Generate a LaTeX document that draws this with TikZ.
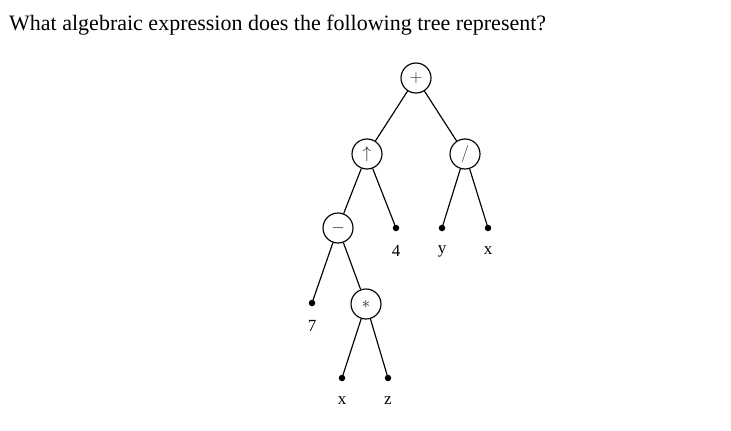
\documentclass[tikz,border=0pt]{standalone}
\usepackage{fontspec}
\setmainfont{Liberation Serif}
\begin{document}
\begin{tikzpicture}[x=1pt,y=-1pt,
  op/.style={circle,draw,line width=1.15pt,minimum size=30pt,inner sep=0pt,font=\fontsize{17}{20}\selectfont,text=black!85},
  leaf/.style={circle,fill,inner sep=0pt,minimum size=6.5pt},
  lbl/.style={font=\fontsize{17}{20}\selectfont,inner sep=0pt},
  edge/.style={line width=1.15pt}]
\useasboundingbox (0,0) rectangle (731,431);
\node[anchor=base west,inner sep=0pt,font=\fontsize{22}{26}\selectfont] (title) at (9,30) {What algebraic expression does the following tree represent?};
\node[op] (plus) at (416,78) {$+$};
\node[op] (up) at (367,154) {$\uparrow$};
\node[op] (div) at (465,154) {$/$};
\node[op] (minus) at (338,228) {$-$};
\node[op] (times) at (366,304) {$*$};
\node[leaf] (four) at (396,228) {};
\node[leaf] (y) at (442,228) {};
\node[leaf] (x1) at (488,228) {};
\node[leaf] (seven) at (312,303) {};
\node[leaf] (x2) at (342,378) {};
\node[leaf] (z) at (388,378) {};
\node[lbl] (l4) at (396,251) {4};
\node[lbl] (ly) at (442,251) {y};
\node[lbl] (lx1) at (488,251) {x};
\node[lbl] (l7) at (312,326) {7};
\node[lbl] (lx2) at (342,401) {x};
\node[lbl] (lz) at (388,401) {z};
\draw[edge] (plus) -- (up);
\draw[edge] (plus) -- (div);
\draw[edge] (up) -- (minus);
\draw[edge] (up) -- (four.center);
\draw[edge] (div) -- (y.center);
\draw[edge] (div) -- (x1.center);
\draw[edge] (minus) -- (seven.center);
\draw[edge] (minus) -- (times);
\draw[edge] (times) -- (x2.center);
\draw[edge] (times) -- (z.center);
\end{tikzpicture}
\end{document}
